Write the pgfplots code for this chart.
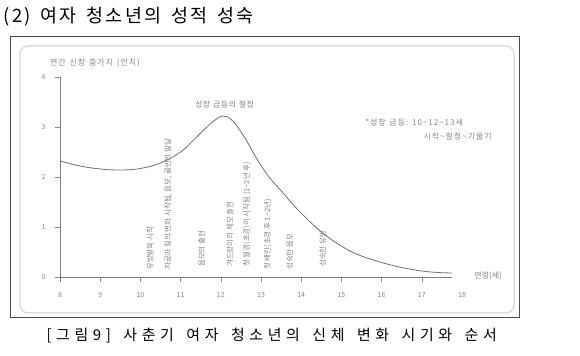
\documentclass[border=0pt]{standalone}
\usepackage{fontspec}
\setmainfont{Noto Sans CJK KR}
\usepackage{pgfplots}
\pgfplotsset{compat=1.18}
\definecolor{anno}{HTML}{858585}
\definecolor{curve}{HTML}{707070}
\newcommand{\anno}{\fontsize{7.5}{8}\selectfont}
\newcommand{\annob}{\fontsize{8}{9}\selectfont}
\newcommand{\tl}{\textasciitilde{}}
\makeatletter
\newdimen\lsp
\def\ls#1#2{\lsp=#1\relax\ls@#2\relax}
\def\ls@#1{\ifx\relax#1\else#1\kern\lsp\expandafter\ls@\fi}
\makeatother
\begin{document}
\begin{tikzpicture}
\useasboundingbox (0,0) rectangle (580bp,356bp);
% title
\node[anchor=west, inner sep=0pt, font=\fontsize{18.5}{20}\selectfont] at (3bp,339bp) {\ls{2.6bp}{(2)\ 여자\ 청소년의\ 성적\ 성숙}};
% frames
\draw[color=black!70, line width=1bp] (10bp,38bp) rectangle (519bp,319bp);
\draw[color=black!13, line width=1.5bp, rounded corners=8bp] (20bp,43bp) rectangle (514bp,310bp);
% caption
\node[inner sep=0pt, font=\fontsize{15}{17}\selectfont] at (274bp,20bp) {\ls{4.6bp}{[그림9]\ 사춘기\ 여자\ 청소년의\ 신체\ 변화\ 시기와\ 순서}};
\begin{axis}[
  at={(60bp,79bp)}, anchor=south west,
  scale only axis, width=402bp, height=200bp,
  xmin=8, xmax=18, ymin=0, ymax=4,
  axis x line*=bottom, axis y line*=left,
  axis line style={draw=none},
  clip=false,
  xtick={8,...,17}, ytick={0,1,2,3,4},
  extra x ticks={18}, extra x tick style={tick style={draw=none}},
  tick align=outside, major tick length=5bp,
  tick style={color=black!45, line width=0.6bp},
  /pgf/number format/assume math mode=true,
  ticklabel style={font=\fontsize{7}{8}\selectfont, text=anno},
  xticklabel style={yshift=-7bp},
  yticklabel style={xshift=-6bp},
]
\draw[color=black!50, line width=0.7bp] (axis cs:8,-0.1) -- (axis cs:8,4);
\draw[color=black!50, line width=0.7bp] (axis cs:8,0) -- (axis cs:17.75,0);
\addplot[color=curve, line width=0.8bp, smooth, tension=0.6] coordinates {
(8,2.32) (8.5,2.22) (9,2.16) (9.5,2.14) (10,2.17) (10.5,2.28) (11,2.5) (11.4,2.8) (11.75,3.07) (12.05,3.22) (12.3,3.12) (12.6,2.78) (12.9,2.36) (13.2,2.0) (13.55,1.68) (13.9,1.36) (14.5,0.9) (15.1,0.57) (15.5,0.42) (16,0.29) (16.5,0.19) (17,0.12) (17.4,0.09) (17.75,0.08)
};
\begin{scope}[every node/.style={font=\annob, text=anno, inner sep=0pt}]
\node[anchor=west] at (axis cs:7.75,4.28) {\ls{1bp}{연간\ 신장\ 증가치\ (인치)}};
\node at (axis cs:18.65,0.02) {연령(세)};
\node at (axis cs:12.1,3.44) {\ls{0.5bp}{성장\ 급등의\ 절정}};
\node[anchor=west] at (axis cs:15.59,3.08) {\ls{1bp}{*성장\ 급등:\ 10\tl 12\tl 13세}};
\node[anchor=east] at (axis cs:18.77,2.8) {\ls{1bp}{시작\tl 절정\tl 기울기}};
\end{scope}
\begin{scope}[every node/.style={font=\anno, text=anno, inner sep=0pt, rotate=90, anchor=west}]
\node at (axis cs:10.24,0.14) {유방발육 시작};
\node at (axis cs:10.69,0.14) {자궁과 질의 변화 시작됨, 음모, 골반의 발달};
\node at (axis cs:11.53,0.2) {음모의 출현};
\node at (axis cs:12.23,0.2) {겨드랑이의 체모 출현};
\node at (axis cs:12.65,0.2) {첫 월경(초경)이 시작됨 (1\tl 2년 후)};
\node at (axis cs:13.17,0.14) {첫 배란(초경 후 1\tl 2년)};
\node at (axis cs:13.72,0.14) {성숙한 음모};
\node at (axis cs:14.54,0.2) {성숙한 유방};
\end{scope}
\end{axis}
\end{tikzpicture}
\end{document}
